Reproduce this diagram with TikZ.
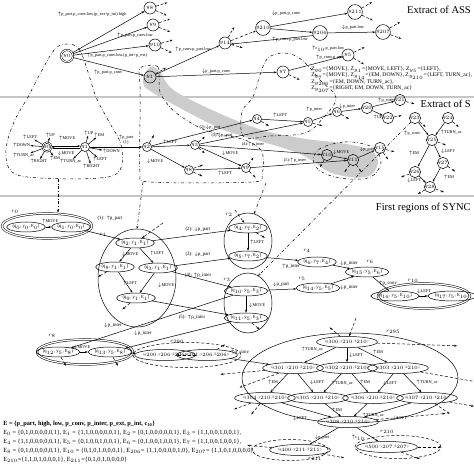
\documentclass[tikz,border=0pt]{standalone}
\usepackage{fontspec}
\setmainfont{Liberation Serif}
\usetikzlibrary{shapes.geometric,arrows.meta,positioning,calc}

\newcommand{\uarr}{$\uparrow$}
\newcommand{\darr}{$\downarrow$}
\newcommand{\trip}[3]{(q$_{#1}$, y$_{#2}$, E$_{#3}$)}

\tikzset{
  ynode/.style={circle, draw, inner sep=0pt, minimum size=12pt, font=\fontsize{5}{5}\selectfont},
  qnode/.style={circle, draw, inner sep=0pt, minimum size=9pt, font=\fontsize{2.8}{3}\selectfont},
  rnode/.style={ellipse, draw, inner sep=0.3pt, minimum height=10pt, font=\fontsize{4.6}{5}\selectfont},
  bnode/.style={ellipse, draw, inner sep=0pt, minimum width=31pt, minimum height=11pt, font=\fontsize{3.3}{4}\selectfont},
  regbox/.style={ellipse, draw, inner sep=0pt},
  lab/.style={font=\fontsize{4.3}{4.6}\selectfont, inner sep=0pt},
  slab/.style={font=\fontsize{4.9}{5.2}\selectfont, inner sep=0pt},
  stub/.style={->, densely dashed},
  region/.style={dash dot, line width=0.5pt},
  heading/.style={font=\fontsize{10.5}{12}\selectfont, anchor=east, inner sep=0pt},
}

\begin{document}
\begin{tikzpicture}[x=1pt, y=1pt, >={Stealth[length=3pt,width=2pt]}, line width=0.5pt]
\useasboundingbox (0,0) rectangle (474,-470);

% separators and titles
\draw[gray!45, line width=1.2pt] (0,-97) -- (474,-97);
\draw[gray!45, line width=1.2pt] (0,-196) -- (474,-196);
\node[heading] (tass) at (471,-10) {Extract of ASS};
\node[heading] (ts) at (471,-104) {Extract of S};
\node[heading] (tsync) at (471,-208) {First regions of SYNC};

% grey band from y1 down into S
\fill[gray!40] plot[smooth cycle, tension=0.6] coordinates {(150,-67) (160,-72) (178,-93) (250,-126) (300,-138) (340,-143) (370,-150) (378,-163) (366,-177) (332,-173) (300,-154) (250,-138) (217,-127) (155,-94) (143,-82)};

% dash-dot regions
\draw[region] plot[smooth cycle, tension=0.6] coordinates {(67,-44) (79,-49) (88,-72) (96,-97) (108,-120) (121,-145) (120,-170) (100,-178) (40,-178) (12,-172) (6,-150) (14,-122) (28,-97) (41,-72) (55,-49)};
\draw[region] plot[smooth cycle, tension=0.5] coordinates {(140,-68) (158,-67) (160,-92) (175,-112) (205,-130) (245,-140) (262,-152) (262,-175) (252,-182) (150,-182) (140,-172) (140,-120) (140,-85)};
\draw[region] plot[smooth cycle, tension=0.6] coordinates {(268,-58) (285,-53) (302,-60) (320,-80) (336,-98) (323,-118) (305,-133) (270,-136) (244,-137) (242,-112) (253,-97) (260,-75)};
\draw[region] plot[smooth cycle, tension=0.6] coordinates {(318,-150) (345,-142) (372,-147) (381,-163) (368,-178) (335,-177) (315,-166)};

% ---------------- ASS ----------------
\node[ynode, double, double distance=1pt] (y0) at (67,-56) {$y_0$};
\node[ynode] (y8) at (150,-8) {$y_8$};
\node[ynode] (y9) at (153,-25) {$y_9$};
\node[ynode] (y10) at (155,-45) {$y_{10}$};
\node[ynode] (y1) at (150,-77) {$y_1$};
\node[ynode] (y14) at (225,-43) {$y_{14}$};
\node[ynode] (y210) at (263,-28) {$y_{210}$};
\node[ynode] (y211) at (355,-12) {$y_{211}$};
\node[ynode] (y206) at (320,-33) {$y_{206}$};
\node[ynode] (y207) at (383,-32) {$y_{207}$};
\node[ynode] (y7) at (283,-72) {$y_7$};
\node[ynode] (y5) at (348,-55) {$y_5$};

\draw[->] (y0) -- (y8);
\draw[->] (y0) -- (y9);
\draw[->] (y0) -- (y10);
\draw[->] (y0) -- (y1);
\draw[->] (y1) -- (y14);
\draw[->] (y1) -- (y7);
\draw[stub] (y14) -- (y210);
\draw[->] (y210) -- (y211);
\draw[->] (y210) -- (y206);
\draw[->] (y206) -- (y207);
\draw[->] (y206.200) -- (y14.-10);
\draw[->] (y7) -- (y5);

\foreach \n/\a in {y8/17, y8/-24, y9/20, y9/-22, y10/16, y10/-25, y1/30, y14/60, y14/-15,
                   y211/30, y211/-25, y207/30, y207/-20, y5/25, y5/-30, y7/-25}
  \draw[stub] (\n.\a) -- ++(\a:12);

\foreach \x/\y/\t [count=\i] in {
    92/-14/\uarr p\_part.p\_conv.low.(p\_ext+p\_int).high,
    135/-35/\uarr p\_part.p\_conv.low,
    117/-55/\uarr p\_part.p\_conv.low.(p\_int+p\_ext),
    108/-72/\uarr p\_part.p\_conv,
    193/-49/\uarr p\_conv.p\_part.low,
    216/-71/\darr p\_part.p\_conv,
    286/-13/\darr p\_part.p\_conv,
    290/-39/\uarr p\_conv.p\_part.low,
    353/-27/\darr p\_part.low,
    328/-49/\uarr c$_{10}$.p\_part.low,
    330/-57/\uarr p\_conv.p\_part}
  \node[lab] (la\i) at (\x,\y) {\t};

\node[anchor=north west, align=left, inner sep=0pt, font=\fontsize{5.6}{6.6}\selectfont] (zset) at (311,-66)
  {Z$_{y_0}$=\{MOVE\}, Z$_{y_1}$=\{MOVE, LEFT\}, Z$_{y_5}$=\{LEFT\},\\
   Z$_{y_7}$=\{MOVE\}, Z$_{y_{14}}$=\{EM, DOWN\}, Z$_{y_{210}}$=\{LEFT, TURN\_ac\},\\
   Z$_{y_{206}}$=\{EM, DOWN, TURN\_ac\},\\
   Z$_{y_{207}}$=\{RIGHT, EM, DOWN, TURN\_ac\}};

% ---------------- S ----------------
\node[qnode, double, double distance=0.8pt] (s0) at (47,-147) {$q_0$};
\node[qnode] (s1) at (85,-147) {$q_1$};
\node[qnode] (s2) at (147,-147) {$q_2$};
\node[qnode] (s3) at (195,-145) {$q_3$};
\node[qnode] (s4) at (189,-170) {$q_8$};
\node[qnode] (s5) at (257,-119) {$q_4$};
\node[qnode] (s6) at (246,-168) {$q_9$};
\node[qnode] (s7) at (308,-122) {$q_5$};
\node[qnode] (s8) at (337,-112) {$q_6$};
\node[qnode] (s9) at (367,-108) {$q_{20}$};
\node[qnode] (s10) at (400,-100) {$q_{21}$};
\node[qnode] (s11) at (388,-118) {$q_{22}$};
\node[qnode] (s12) at (415,-118) {$q_{23}$};
\node[qnode] (s13) at (448,-118) {$q_{24}$};
\node[qnode] (s14) at (432,-140) {$q_{25}$};
\node[qnode] (s15) at (415,-172) {$q_{26}$};
\node[qnode] (s16) at (443,-163) {$q_{27}$};
\node[qnode] (s17) at (430,-187) {$q_{28}$};
\node[qnode] (s18) at (380,-148) {$q_{15}$};
\node[qnode] (s19) at (327,-155) {$q_{10}$};
\node[qnode] (s20) at (353,-160) {$q_{11}$};

\foreach \a/\l/\t [evaluate=\a as \b using int(\a+180)] in {150/10/\uarr LEFT, 75/5/\uarr UP,
    175/12/\uarr DOWN, 200/13/\uarr TURN\_ac, -55/6/\uarr EM, -120/9/\uarr RIGHT}
  \draw[->] (s0.\a) -- ++(\a:\l) node[lab, anchor=\b] {\t};
\foreach \a/\l/\t [evaluate=\a as \b using int(\a+180)] in {75/7/\uarr UP, 40/10/\uarr EM,
    -10/13/\uarr DOWN, -40/11/\uarr LEFT, -72/13/\uarr RIGHT, -135/12/\uarr TURN\_ac}
  \draw[->] (s1.\a) -- ++(\a:\l) node[lab, anchor=\b] {\t};

\draw[->] (s0.12) -- (s1.168);
\draw[->] (s1.-168) -- (s0.-12);
\draw[->] (s1) -- (s2);
\draw[->] (s2) -- (s3);
\draw[->] (s2) -- (s4);
\draw[->] (s3) -- (s6);
\draw[->] (s4) -- (s6);
\draw[->] (s2) -- (s5);
\draw[->] (s3) -- (s7);
\draw[->] (s3) -- (s19);
\draw[->] (s6) -- (s20);
\draw[->] (s5) -- (s7);
\draw[->] (s7) -- (s8);
\draw[->] (s8) -- (s9);
\draw[->] (s9) -- (s10);
\draw[->] (s9) -- (s11);
\draw[->] (s12) -- (s14);
\draw[->] (s13) -- (s14);
\draw[->] (s14) -- (s15);
\draw[->] (s14) -- (s16);
\draw[->] (s15) -- (s17);
\draw[->] (s16) -- (s17);
\draw[->] (s19) -- (s20);
\draw[->] (s20) -- (s18);

\foreach \n/\a/\l in {s2/60/9, s3/40/8, s3/-40/8, s4/20/10, s4/-25/10, s5/-30/9, s6/55/8, s6/-45/9,
                      s7/-15/10, s8/-30/9, s10/-15/9, s11/10/8, s12/-40/8, s13/-40/8, s14/-20/9,
                      s15/-160/9, s16/-35/9, s17/-150/8, s17/-20/9, s18/-15/9, s18/-55/8,
                      s19/-120/8, s20/-125/9, s20/-55/9}
  \draw[stub] (\n.\a) -- ++(\a:\l);

\foreach \x/\y/\t [count=\i] in {
    67/-138/\uarr MOVE, 66/-153/\darr MOVE, 170/-142/\uarr LEFT, 155/-161/\darr MOVE,
    230/-153/\darr MOVE, 225/-173/\uarr LEFT, 210/-127/(2):\darr p\_part,
    222/-135/(3):\darr p\_part, 253/-144/(4):\uarr p\_inter, 295/-160/(5):\uarr p\_inter,
    280/-115/\uarr LEFT, 314/-109/\uarr p\_inter, 347/-106/\darr p\_inter,
    386/-100/\uarr p\_conv, 378/-117/\uarr UP, 412/-133/\uarr p\_conv,
    451/-132/\uarr TURN\_ac, 414/-153/\uarr EM, 448/-151/\darr LEFT, 414/-180/\darr LEFT,
    449/-177/\uarr EM, 341/-152/\darr MOVE, 367/-149/\darr p\_part}
  \node[lab] (lb\i) at (\x,\y) {\t};
\node[lab, align=center] (lbone) at (126,-139.5) {\uarr p\_part\\(1)};

% ---------------- SYNC ----------------
\node[regbox, double, double distance=1.2pt, minimum width=90pt, minimum height=25pt] (r0) at (47,-226) {};
\node[rnode] (r0a) at (26,-227) {\trip{0}{0}{0}};
\node[rnode] (r0b) at (71,-227) {\trip{1}{0}{0}};

\node[regbox, minimum width=78pt, minimum height=98pt] (r1) at (137,-278) {};
\node[rnode] (r1a) at (135,-243) {\trip{2}{1}{1}};
\node[rnode] (r1b) at (115,-267) {\trip{8}{1}{1}};
\node[rnode] (r1c) at (158,-268) {\trip{3}{1}{1}};
\node[rnode] (r1d) at (136,-298) {\trip{9}{1}{1}};

\node[regbox, minimum width=48pt, minimum height=56pt] (r2) at (248,-241) {};
\node[rnode] (r2a) at (248,-228) {\trip{4}{7}{2}};
\node[rnode] (r2b) at (248,-256) {\trip{5}{7}{2}};

\node[regbox, minimum width=48pt, minimum height=60pt] (r3) at (248,-303) {};
\node[rnode] (r3a) at (246,-291) {\trip{10}{5}{3}};
\node[rnode] (r3b) at (246,-318) {\trip{11}{5}{3}};

\node[rnode] (r4) at (317,-262) {\trip{6}{7}{4}};
\node[rnode] (r5) at (318,-288) {\trip{14}{5}{5}};
\node[rnode] (r6) at (367,-272) {\trip{15}{5}{6}};

\node[regbox, double, double distance=1.2pt, minimum width=92pt, minimum height=25pt] (r10) at (424,-296) {};
\node[rnode] (r10a) at (395,-296) {\trip{16}{5}{10}};
\node[rnode] (r10b) at (452,-296) {\trip{17}{5}{10}};

\node[regbox, double, double distance=1.2pt, minimum width=96pt, minimum height=25pt] (r8) at (85,-352) {};
\node[rnode] (r8a) at (58,-352) {\trip{12}{5}{8}};
\node[rnode] (r8b) at (110,-352) {\trip{13}{5}{8}};

\node[regbox, densely dashed, minimum width=108pt, minimum height=25pt] (r290) at (187,-355) {};
\node[bnode] (r290a) at (165,-355) {\trip{200}{206}{206}};
\node[bnode] (r290b) at (207,-355) {\trip{201}{206}{206}};

\node[regbox, minimum width=216pt, minimum height=90pt] (rbig) at (350,-378) {};
\node[bnode] (bT) at (347,-342) {\trip{300}{210}{210}};
\node[bnode] (bA) at (293,-368) {\trip{301}{210}{210}};
\node[bnode] (bB) at (347,-368) {\trip{302}{210}{210}};
\node[bnode] (bC) at (398,-368) {\trip{303}{210}{210}};
\node[bnode] (bD) at (265,-398) {\trip{304}{210}{210}};
\node[bnode] (bE) at (318,-398) {\trip{305}{210}{210}};
\node[bnode] (bF) at (373,-398) {\trip{306}{210}{210}};
\node[bnode] (bG) at (427,-398) {\trip{307}{210}{210}};
\node[bnode] (bH) at (348,-422) {\trip{308}{210}{210}};

\node[regbox, densely dashed, minimum width=76pt, minimum height=21pt] (rI) at (290,-450) {};
\node[bnode] (bI) at (300,-450) {\trip{400}{211}{211}};
\node[regbox, densely dashed, minimum width=86pt, minimum height=23pt] (rJ) at (398,-447) {};
\node[bnode] (bJ) at (387,-447) {\trip{500}{207}{207}};

\draw[->] (r0a) -- (r0b);
\draw[->] (r0b) -- (r1a);
\draw[->] (r1a) -- (r1b);
\draw[->] (r1a) -- (r1c);
\draw[->] (r1b) -- (r1d);
\draw[->] (r1c) -- (r1d);
\draw[->] (r1a) -- (r2a);
\draw[->] (r1c) -- (r2b);
\draw[->] (r1c) -- (r3a);
\draw[->] (r1d) -- (r3b);
\draw[->] (r2a) -- (r2b);
\draw[->] (r3a) -- (r3b);
\draw[->] (r2b) -- (r4);
\draw[->] (r3a) -- (r5);
\draw[->] (r4) -- (r6);
\draw[->] (r5) -- (r6);
\draw[->] (r6) -- (r10a);
\draw[->] (r10a) -- (r10b);
\draw[->] (r3a) -- (r8a);
\draw[->] (r3b) -- (r8b);
\draw[->] (r8a) -- (r8b);
\draw[stub] (r8b) -- (r290a);
\draw[stub] (r290a) -- (r290b);
\draw[->] (r290b) -- (bA);
\foreach \u/\v in {bT/bA, bT/bB, bT/bC, bA/bD, bA/bE, bB/bE, bB/bF, bC/bF, bC/bG,
                   bD/bH, bE/bH, bF/bH, bG/bH, bH/bI, bH/bJ}
  \draw[->] (\u) -- (\v);

\foreach \n/\a/\l in {r1b/-150/10, r1d/-140/10, r2a/-30/10, r3b/-40/10, r8a/-60/10, r8b/-60/10,
                      r290b/30/10, bT/-2/80, bT/140/14, bA/185/45, bA/200/42, bD/200/18, bD/230/14,
                      bC/-10/60, bG/-10/25, bG/-35/18, bH/5/70, bI/175/25, bI/-10/22,
                      bJ/0/24, bJ/-20/20}
  \draw[stub] (\n.\a) -- ++(\a:\l);

\coordinate (in1) at (163,-223);
\coordinate (in2) at (235,-210);
\coordinate (in3) at (356,-318);
\draw[stub] (in1) -- (r1a);
\draw[stub] (in2) -- (r2a);
\draw[stub] (in3) -- (bT);

% regions of S mapped onto regions of SYNC
\coordinate (ma) at (58,-179);
\coordinate (mb) at (58,-212.5);
\coordinate (mc) at (143,-182);
\coordinate (md) at (137,-229);
\coordinate (me) at (266,-183);
\coordinate (mf) at (254,-214);
\coordinate (mg) at (258,-276);
\draw[region, ->] (ma) -- (mb);
\draw[region, ->] (mc) -- (md);
\draw[region, ->] (me) -- (mf);
\draw[region, ->] (s12.south west) -- (mg);

\foreach \x/\y/\t [count=\i] in {
    15/-212/$r_0$, 50/-221/\uarr MOVE, 103/-235/$r_1$, 130/-254/\darr MOVE, 157/-253/\uarr LEFT,
    130/-283/\uarr LEFT, 166/-285/\darr MOVE, 229/-215/$r_2$, 257/-242/\uarr LEFT,
    227/-280/$r_3$, 257/-305/\darr MOVE, 307/-251/$r_4$, 302/-279/$r_5$, 370/-262/$r_6$,
    413/-281/$r_{10}$, 424/-291/\darr LEFT, 52/-336/$r_8$, 82/-347/\darr MOVE,
    177/-342/$r_{290}$, 393/-332/$r_{295}$, 315/-459/$r_{211}$, 387/-432/$r_{210}$}
  \node[lab] (lc\i) at (\x,\y) {\t};

\foreach \x/\y/\t [count=\i] in {
    110/-218/(1): \uarr p\_part, 198/-229/(2): \darr p\_part, 198/-254/(3): \darr p\_part,
    198/-275/(4): \uarr p\_inter, 192/-317/(5): \uarr p\_inter, 291/-266/\uarr p\_inter,
    281/-284/\darr p\_part, 349/-263/\darr p\_inter, 349/-287/\darr p\_inter,
    388/-283/\uarr p\_conv, 113/-325/\darr p\_inter, 143/-333/\darr p\_inter,
    240/-352/\uarr p\_conv}
  \node[slab] (ld\i) at (\x,\y) {\t};

\foreach \x/\y/\t [count=\i] in {
    312/-349/\uarr TURN\_ac, 356/-355/\darr LEFT, 378/-352/\uarr EM, 273/-382/\uarr EM,
    317/-382/\darr LEFT, 342/-383/\uarr TURN\_ac, 365/-382/\uarr EM, 390/-383/\darr LEFT,
    427/-382/\uarr TURN\_ac, 300/-418/\darr LEFT, 337/-410/\uarr EM, 373/-415/\uarr TURN\_ac,
    400/-418/\darr LEFT, 322/-437/\darr p\_part, 358/-438/\uarr c$_{10}$}
  \node[lab] (le\i) at (\x,\y) {\t};

% the event sets
\node[anchor=north west, align=left, inner sep=0pt, font=\fontsize{6.3}{9}\selectfont] (eset) at (3,-421)
  {\textbf{E = \{p\_part, high, low, p\_conv, p\_inter, p\_ext, p\_int, c$_{\mathbf{10}}$\}}\\
   E$_0$ = \{0,1,0,0,0,0,0,1\}, E$_1$ = \{1,1,0,0,0,0,0,1\}, E$_2$ = \{0,1,0,0,0,0,0,1\}, E$_3$ = \{1,1,0,0,1,0,0,1\},\\
   E$_4$ = \{1,1,0,0,0,0,0,1\}, E$_5$ = \{0,1,0,0,1,0,0,1\}, E$_6$ = \{0,1,0,0,1,0,0,1\}, E$_7$ = \{1,1,0,0,1,0,0,1\},\\
   E$_8$ = \{0,1,0,0,0,0,0,1\}, E$_{10}$ = \{0,1,0,1,0,0,0,1\}, E$_{206}$= \{1,1,0,0,0,0,1,0\}, E$_{207}$= \{1,1,0,1,0,0,0,0\},\\
   E$_{210}$=\{1,1,0,1,0,0,0,1\}, E$_{211}$=\{0,1,0,1,0,0,0,0\}};
\end{tikzpicture}
\end{document}
